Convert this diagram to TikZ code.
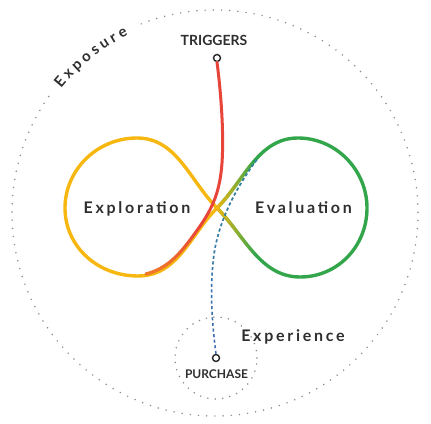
\documentclass[tikz,border=0pt]{standalone}
\usepackage{fontspec}
\setmainfont{Lato}
\newfontfamily\spacedfont{Lato}[LetterSpace=17]
\usetikzlibrary{fadings,decorations.text}
\definecolor{yel}{HTML}{F6B711}
\definecolor{grn}{HTML}{33A64C}
\definecolor{redc}{HTML}{E8453A}
\definecolor{orc}{HTML}{EF7E25}
\definecolor{blu}{HTML}{3D68B3}
\definecolor{tealc}{HTML}{2F8B9C}
\definecolor{dotc}{HTML}{8C8C8C}
\definecolor{txt}{HTML}{2E2E2E}
\tikzfading[name=faderight, left color=transparent!0, right color=transparent!100]
\tikzfading[name=fadeup, top color=transparent!100, bottom color=transparent!0]
\tikzfading[name=fadedown, top color=transparent!0, bottom color=transparent!100]
\begin{document}
\begin{tikzpicture}[x=1pt,y=1pt,
  loopline/.style={line width=3.4pt, line cap=round},
  dotline/.style={dotc, line width=1.7pt, line cap=round, dash pattern=on 0pt off 8.2pt},
  smalldots/.style={dotc, line width=1.7pt, line cap=round, dash pattern=on 0pt off 7.4pt},
  marker/.style={circle, draw=black!85, fill=white, line width=1.4pt, inner sep=0pt, minimum size=7pt},
  lab/.style={font=\spacedfont\bfseries\fontsize{16}{16}\selectfont, text=txt, anchor=base, inner sep=0pt},
  capslab/.style={font=\bfseries\fontsize{14}{14}\selectfont, text=txt, anchor=base, inner sep=0pt}]
\useasboundingbox (0,0) rectangle (431,423);
\coordinate (bigc) at (215,210);
\coordinate (smallc) at (216,65);
% exposure dotted circle with gap
\draw[dotline] (bigc) ++(145:203) arc[start angle=145, end angle=472, radius=203];
\path[decorate, decoration={text along path, text align=fit to path, text color=txt,
  text={|\bfseries\fontsize{15}{15}\selectfont|Exposure}}]
  (bigc) ++(141:198) arc[start angle=141, end angle=116, radius=198];
% experience circle
\draw[smalldots] (smallc) circle[radius=41];
% crossing
\coordinate (C) at (217,215);
% left lobe
\draw[loopline, yel] (C) .. controls (190,242) and (177,285) .. (137,285)
  .. controls (97,285) and (65,253) .. (65,215)
  .. controls (65,177) and (97,147) .. (138,147)
  .. controls (178,147) and (190,188) .. (C);
% right lobe
\draw[loopline, grn] (C) .. controls (244,242) and (258,285) .. (298,285)
  .. controls (336,285) and (367,253) .. (367,215)
  .. controls (367,177) and (338,146) .. (300,146)
  .. controls (260,146) and (244,188) .. (C);
\draw[loopline, yel, path fading=faderight] (C) .. controls (230.5,228.5) and (240.75,246) .. (252.6,260.1);
\draw[loopline, yel, path fading=faderight] (C) .. controls (230.5,201.5) and (241.25,184.25) .. (253.6,170.4);
% markers
\node[marker] (trigdot) at (217,365) {};
\node[marker] (purchdot) at (216,65) {};
% red trigger path
\coordinate (r1) at (222,260);
\coordinate (r2) at (198,194);
\coordinate (r3) at (146,149);
\draw[line width=3pt, redc, line cap=round] (trigdot.south) .. controls (221,330) and (224,290) .. (r1)
  .. controls (220,232) and (213,215) .. (r2)
  .. controls (183,173) and (170,155) .. (r3);
\draw[line width=3pt, orc, line cap=round, path fading=fadeup] (r2) .. controls (183,173) and (170,155) .. (r3);
% blue purchase path
\coordinate (b1) at (213,160);
\coordinate (b2) at (258,265);
\draw[line width=1.5pt, blu, dash pattern=on 3pt off 2.6pt] (purchdot.north) .. controls (212,100) and (210,130) .. (b1)
  .. controls (216,195) and (232,230) .. (b2);
\draw[line width=1.5pt, tealc, dash pattern=on 3pt off 2.6pt, path fading=fadedown] (purchdot.north) .. controls (212,100) and (210,130) .. (b1)
  .. controls (216,195) and (232,230) .. (b2);
% labels
\node[capslab] (triggers) at (214,377) {TRIGGERS};
\node[capslab, font=\bfseries\fontsize{12}{12}\selectfont] (purchase) at (216.5,45) {PURCHASE};
\node[lab] (exploration) at (137,209) {Exploration};
\node[lab] (evaluation) at (303.5,209) {Evaluation};
\node[lab] (experience) at (293,81) {Experience};
\end{tikzpicture}
\end{document}
